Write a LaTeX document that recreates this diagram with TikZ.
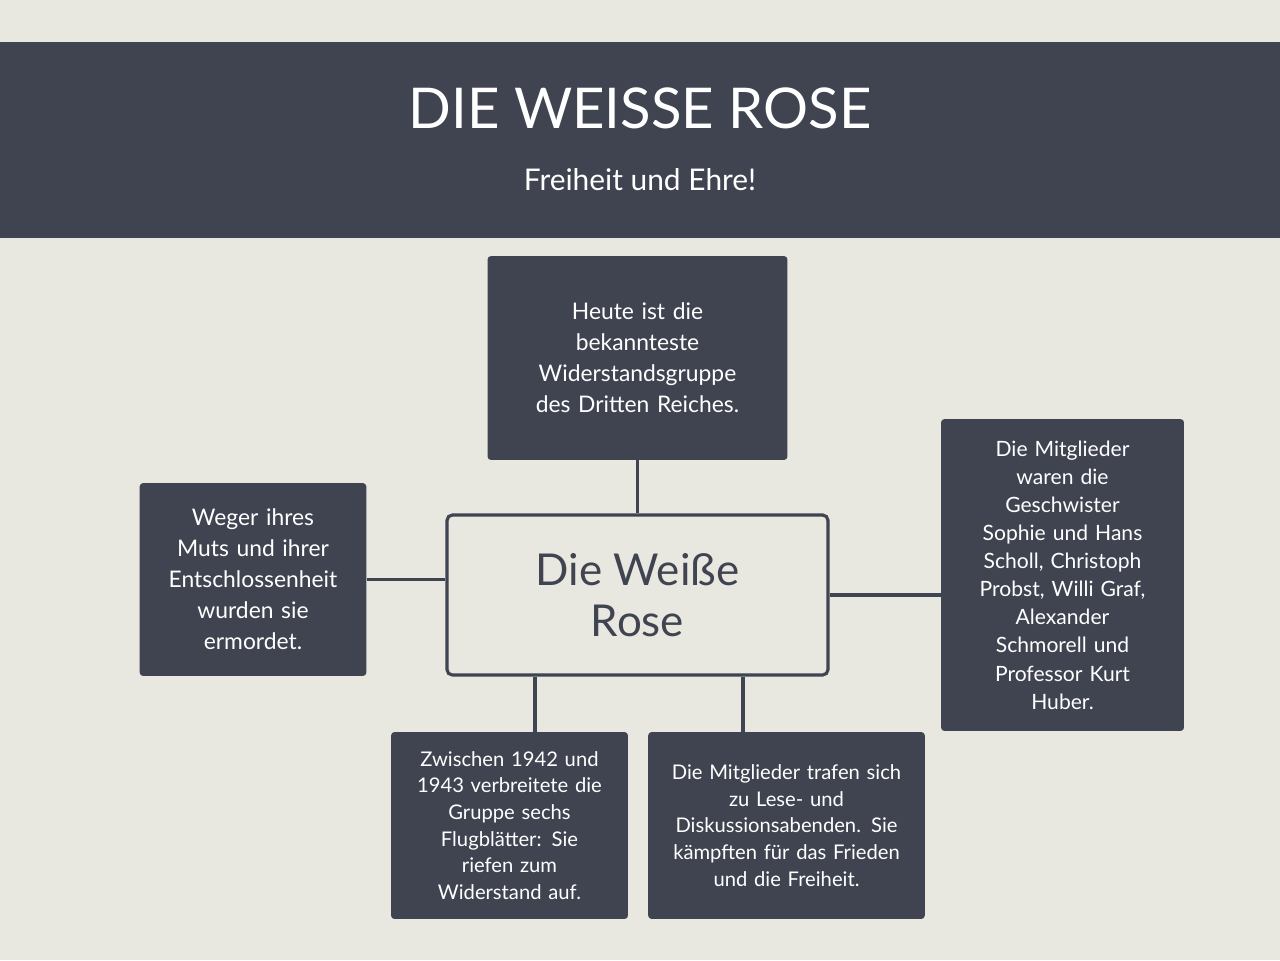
\documentclass[tikz,border=0pt]{standalone}
\usepackage{fontspec}
\setmainfont{Lato}
\usetikzlibrary{positioning}
\definecolor{paper}{HTML}{E8E7E0}
\definecolor{slate}{HTML}{3F4450}
\tikzset{
  darkbox/.style={fill=slate, rounded corners=2pt, text=white, align=center,
    font=\fontsize{13}{17.6}\selectfont},
  smallbox/.style={darkbox, font=\fontsize{11.5}{15.2}\selectfont},
  link/.style={draw=slate, line width=1.8pt}
}
\begin{document}
\begin{tikzpicture}[x=0.02cm, y=-0.02cm]
  \fill[paper] (0,0) rectangle (1280,960);
  \useasboundingbox (0,0) rectangle (1280,960);
  \fill[slate] (0,42) rectangle (1280,238);
  \node[text=white, font=\fontsize{32}{36}\selectfont] (title) at (640,108) {DIE WEISSE ROSE};
  \node[text=white, font=\fontsize{17}{20}\selectfont] (motto) at (640,180) {Freiheit und Ehre!};

  \node[darkbox, minimum width=6cm, minimum height=4.08cm, text width=5cm] (heute) at (637.5,358)
    {Heute ist die\\ bekannteste\\ Widerstandsgruppe\\ des Dritten Reiches.};
  \node[draw=slate, line width=1.8pt, fill=paper, rounded corners=3pt, minimum width=7.62cm,
    minimum height=3.2cm, align=center, text=slate, font=\fontsize{25}{29}\selectfont] (rose) at (637.5,595)
    {Die Weiße\\ Rose};
  \node[darkbox, minimum width=4.52cm, minimum height=3.86cm, text width=4.3cm] (mut) at (253,579.5)
    {Weger ihres\\ Muts und ihrer\\ Entschlossenheit\\ wurden sie\\ ermordet.};
  \node[smallbox, font=\fontsize{12}{16}\selectfont, minimum width=4.86cm, minimum height=6.24cm, text width=4.6cm] (mitglieder) at (1062.5,575)
    {Die Mitglieder\\ waren die\\ Geschwister\\ Sophie und Hans\\ Scholl, Christoph\\ Probst, Willi Graf,\\ Alexander\\ Schmorell und\\ Professor Kurt\\ Huber.};
  \node[smallbox, minimum width=4.74cm, minimum height=3.74cm, text width=4.5cm] (flug) at (509.5,825.5)
    {Zwischen 1942 und\\ 1943 verbreitete die\\ Gruppe sechs\\ Flugblätter: Sie\\ riefen  zum\\ Widerstand auf.};
  \node[smallbox, minimum width=5.5cm, minimum height=3.74cm, text width=5.3cm] (abende) at (786.5,825.5)
    {Die Mitglieder trafen sich\\ zu Lese- und\\ Diskussionsabenden. Sie\\ kämpften für das Frieden\\ und die Freiheit.};

  \draw[link] (heute.south) -- (rose.north);
  \draw[link] (mut.east) -- (mut.east -| rose.west);
  \draw[link] (rose.east) -- (rose.east -| mitglieder.west);
  \draw[link] ([xshift=0.51cm]flug.north) -- ([xshift=0.51cm]flug.north |- rose.south);
  \draw[link] ([xshift=-0.87cm]abende.north) -- ([xshift=-0.87cm]abende.north |- rose.south);
\end{tikzpicture}
\end{document}
